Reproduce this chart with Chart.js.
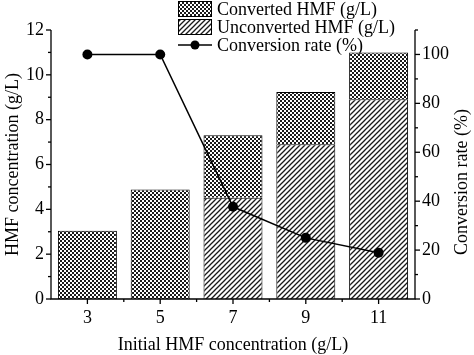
<!DOCTYPE html>
<html>
<head>
<meta charset="utf-8">
<script src="https://cdn.jsdelivr.net/npm/chart.js@4.4.1/dist/chart.umd.min.js"></script>
<style>
html,body{margin:0;padding:0;background:#fff;}
#wrap{width:474px;height:355px;position:relative;}
</style>
</head>
<body>
<div id="wrap"><canvas id="c" width="474" height="355"></canvas></div>
<script>
const categories = ['3', '5', '7', '9', '11'];
const unconvertedHMF = [0, 0, 4.52, 6.90, 8.91];
const convertedHMF = [3.05, 4.89, 2.78, 2.33, 2.09];
const conversionRate = [100, 100, 37.7, 25.0, 18.9];
const leftTicks = [0, 2, 4, 6, 8, 10, 12];
const rightTicks = [0, 20, 40, 60, 80, 100];
const xTitle = 'Initial HMF concentration (g/L)';
const yTitle = 'HMF concentration (g/L)';
const y1Title = 'Conversion rate (%)';
const legendLabels = ['Converted HMF (g/L)', 'Unconverted HMF (g/L)', 'Conversion rate (%)'];

const FONT = '"Liberation Serif", "Times New Roman", serif';

function crossPattern() {
  const c = document.createElement('canvas');
  c.width = 4; c.height = 4;
  const g = c.getContext('2d');
  g.fillStyle = '#fff'; g.fillRect(0, 0, 4, 4);
  g.fillStyle = '#1a1a1a';
  g.fillRect(0, 0, 2, 2); g.fillRect(2, 2, 2, 2);
  return g.createPattern(c, 'repeat');
}
function diagPattern() {
  const s = 5;
  const c = document.createElement('canvas');
  c.width = s; c.height = s;
  const g = c.getContext('2d');
  g.fillStyle = '#fff'; g.fillRect(0, 0, s, s);
  g.strokeStyle = '#1a1a1a'; g.lineWidth = 1.3;
  g.beginPath();
  g.moveTo(-1, s + 1); g.lineTo(s + 1, -1);
  g.moveTo(-1, 1); g.lineTo(1, -1);
  g.moveTo(s - 1, s + 1); g.lineTo(s + 1, s - 1);
  g.stroke();
  return g.createPattern(c, 'repeat');
}
const pCross = crossPattern();
const pDiag = diagPattern();

const axesPlugin = {
  id: 'axesPlugin',
  afterDraw(chart) {
    const ctx = chart.ctx;
    const x = chart.scales.x, y = chart.scales.y, y1 = chart.scales.y1;
    const ca = chart.chartArea;
    ctx.save();
    ctx.strokeStyle = '#000';
    ctx.fillStyle = '#000';
    ctx.lineWidth = 1.3;
    ctx.beginPath();
    ctx.moveTo(ca.left, ca.top); ctx.lineTo(ca.left, ca.bottom); ctx.lineTo(ca.right, ca.bottom); ctx.lineTo(ca.right, ca.top);
    ctx.stroke();
    ctx.font = '18px ' + FONT;
    ctx.textAlign = 'right'; ctx.textBaseline = 'middle';
    for (let v = 0; v <= 12; v += 1) {
      const py = y.getPixelForValue(v);
      const major = v % 2 === 0;
      ctx.beginPath(); ctx.moveTo(ca.left, py); ctx.lineTo(ca.left - (major ? 5 : 3), py); ctx.stroke();
    }
    leftTicks.forEach(v => ctx.fillText(String(v), ca.left - 7, y.getPixelForValue(v)));
    ctx.textAlign = 'left';
    for (let v = 0; v <= 110; v += 10) {
      const py = y1.getPixelForValue(v);
      const major = v % 20 === 0;
      ctx.beginPath(); ctx.moveTo(ca.right, py); ctx.lineTo(ca.right + (major ? 5 : 3), py); ctx.stroke();
    }
    rightTicks.forEach(v => ctx.fillText(String(v), ca.right + 7, y1.getPixelForValue(v)));
    ctx.textAlign = 'center'; ctx.textBaseline = 'top';
    categories.forEach((c, i) => {
      const px = x.getPixelForValue(i);
      ctx.beginPath(); ctx.moveTo(px, ca.bottom); ctx.lineTo(px, ca.bottom + 5); ctx.stroke();
      ctx.fillText(c, px, ca.bottom + 10);
      if (i < categories.length - 1) {
        const mx = (px + x.getPixelForValue(i + 1)) / 2;
        ctx.beginPath(); ctx.moveTo(mx, ca.bottom); ctx.lineTo(mx, ca.bottom + 3); ctx.stroke();
      }
    });
    ctx.textBaseline = 'alphabetic';
    ctx.fillText(xTitle, (ca.left + ca.right) / 2, 350);
    ctx.save();
    ctx.translate(13, (ca.top + ca.bottom) / 2);
    ctx.rotate(-Math.PI / 2);
    ctx.textBaseline = 'middle';
    ctx.fillText(yTitle, 0, 0);
    ctx.restore();
    ctx.save();
    ctx.translate(462, 182);
    ctx.rotate(-Math.PI / 2);
    ctx.textBaseline = 'middle';
    ctx.fillText(y1Title, 0, 0);
    ctx.restore();
    // legend
    const lx = 178, lw = 34;
    ctx.lineWidth = 1;
    ctx.fillStyle = pCross; ctx.fillRect(lx, 1, lw, 16); ctx.strokeRect(lx + 0.5, 1.5, lw - 1, 15);
    ctx.fillStyle = pDiag; ctx.fillRect(lx, 19, lw, 16); ctx.strokeRect(lx + 0.5, 19.5, lw - 1, 15);
    ctx.lineWidth = 1.5;
    ctx.beginPath(); ctx.moveTo(lx, 45); ctx.lineTo(lx + lw, 45); ctx.stroke();
    ctx.fillStyle = '#000';
    ctx.beginPath(); ctx.arc(lx + lw / 2, 45, 4.5, 0, Math.PI * 2); ctx.fill();
    ctx.textAlign = 'left'; ctx.textBaseline = 'middle';
    ctx.fillText(legendLabels[0], 217, 10);
    ctx.fillText(legendLabels[1], 217, 28);
    ctx.fillText(legendLabels[2], 217, 46);
    ctx.restore();
  }
};

new Chart(document.getElementById('c'), {
  data: {
    labels: categories,
    datasets: [
      {
        type: 'line', label: legendLabels[2], data: conversionRate, yAxisID: 'y1',
        borderColor: '#000', backgroundColor: '#000', borderWidth: 1.5,
        pointRadius: 5, pointBackgroundColor: '#000', pointBorderWidth: 0, tension: 0, order: 0
      },
      {
        type: 'bar', label: legendLabels[1], data: unconvertedHMF, yAxisID: 'y', stack: 's',
        backgroundColor: pDiag, borderColor: '#000', borderWidth: 1,
        barPercentage: 0.81, categoryPercentage: 1, order: 1
      },
      {
        type: 'bar', label: legendLabels[0], data: convertedHMF, yAxisID: 'y', stack: 's',
        backgroundColor: pCross, borderColor: '#000', borderWidth: 1,
        barPercentage: 0.81, categoryPercentage: 1, order: 1
      }
    ]
  },
  options: {
    responsive: false,
    animation: false,
    layout: { padding: { left: 51, right: 59, top: 30, bottom: 56 } },
    plugins: { legend: { display: false }, tooltip: { enabled: false } },
    scales: {
      x: { display: false, stacked: true, offset: true },
      y: { display: false, stacked: true, min: 0, max: 12 },
      y1: { display: false, position: 'right', min: 0, max: 110 }
    }
  },
  plugins: [axesPlugin]
});
</script>
</body>
</html>
